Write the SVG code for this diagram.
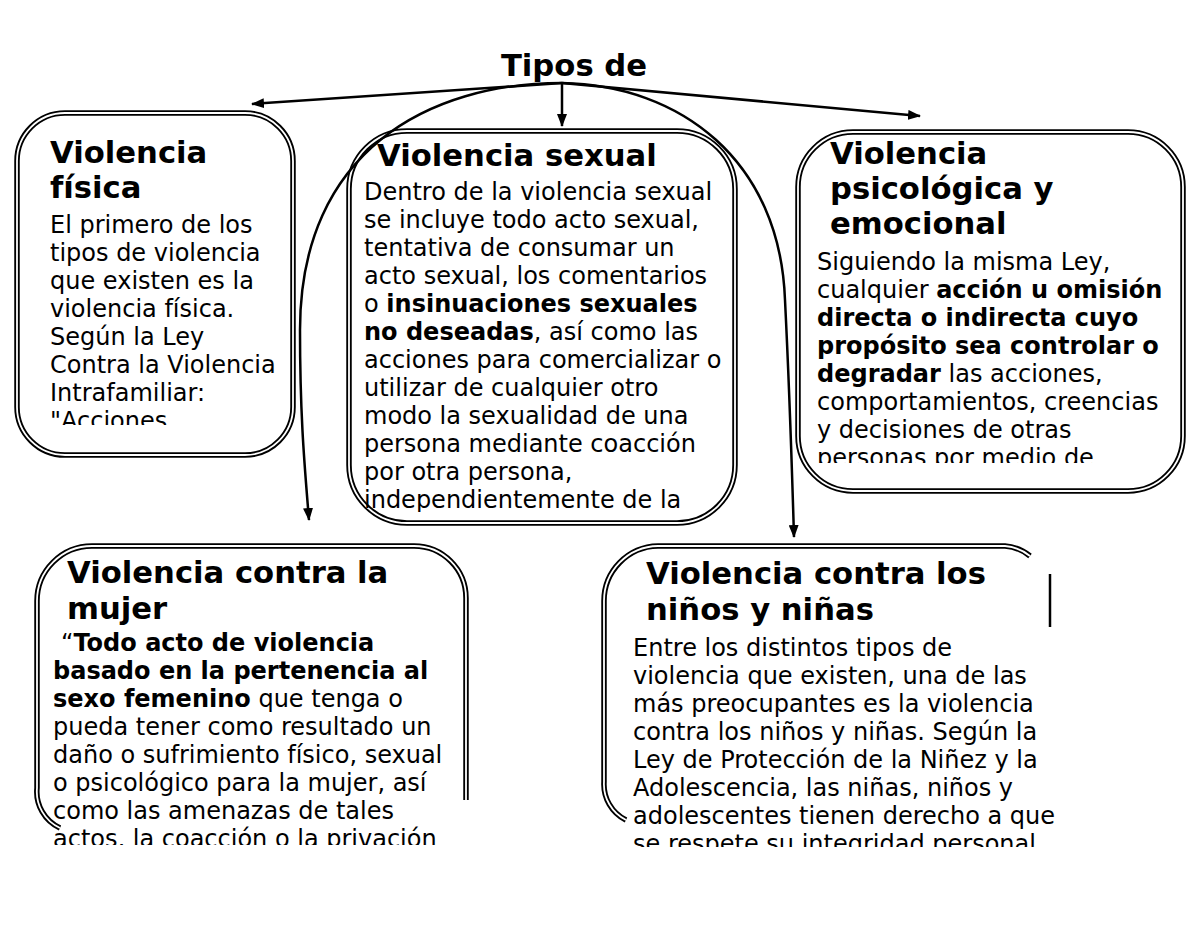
<svg xmlns="http://www.w3.org/2000/svg" width="1200" height="927" viewBox="0 0 1200 927">
<style>
.h{font-family:"DejaVu Sans","Liberation Sans",sans-serif;font-weight:bold;font-size:30.67px;fill:#000}
.t{font-family:"DejaVu Sans","Liberation Sans",sans-serif;font-size:24px;fill:#000}
.b{font-weight:bold}
.ol{fill:none;stroke:#000;stroke-width:5.5}
.il{fill:none;stroke:#fff;stroke-width:1.8}
.c{fill:none;stroke:#000;stroke-width:2.5}
</style>
<defs>
<marker id="ah" markerUnits="userSpaceOnUse" markerWidth="14" markerHeight="10" refX="12" refY="5" orient="auto">
<path d="M0,0 L13,5 L0,10 z" fill="#000"/>
</marker>
<clipPath id="k1"><rect x="0" y="100" width="300" height="325"/></clipPath>
<clipPath id="k2"><rect x="340" y="120" width="400" height="392"/></clipPath>
<clipPath id="k3"><rect x="790" y="120" width="400" height="343"/></clipPath>
<clipPath id="k4"><rect x="30" y="540" width="450" height="305"/></clipPath>
<clipPath id="k5"><rect x="600" y="540" width="470" height="307"/></clipPath>
</defs>
<rect width="1200" height="927" fill="#fff"/>
<g id="title"><text class="h" x="574" y="76" text-anchor="middle">Tipos de</text></g>
<g id="node-fisica">
<rect class="ol" x="17" y="113" width="276" height="342" rx="48"/>
<rect class="il" x="17" y="113" width="276" height="342" rx="48"/>
<text class="h" x="50" y="163">Violencia</text>
<text class="h" x="50" y="198">física</text>
<g clip-path="url(#k1)">
<text class="t" x="50" y="233">El primero de los</text>
<text class="t" x="50" y="261">tipos de violencia</text>
<text class="t" x="50" y="289">que existen es la</text>
<text class="t" x="50" y="317">violencia física.</text>
<text class="t" x="50" y="345">Según la Ley</text>
<text class="t" x="50" y="373">Contra la Violencia</text>
<text class="t" x="50" y="401">Intrafamiliar:</text>
<text class="t" x="50" y="429">"Acciones</text>
</g>
</g>
<g id="node-sexual">
<rect class="ol" x="349" y="131" width="386" height="392" rx="58"/>
<rect class="il" x="349" y="131" width="386" height="392" rx="58"/>
<text class="h" x="377" y="166">Violencia sexual</text>
<g clip-path="url(#k2)">
<text class="t" x="364" y="200">Dentro de la violencia sexual</text>
<text class="t" x="364" y="228">se incluye todo acto sexual,</text>
<text class="t" x="364" y="256">tentativa de consumar un</text>
<text class="t" x="364" y="284">acto sexual, los comentarios</text>
<text class="t" x="364" y="312">o <tspan class="b">insinuaciones sexuales</tspan></text>
<text class="t" x="364" y="340"><tspan class="b">no deseadas</tspan>, así como las</text>
<text class="t" x="364" y="368">acciones para comercializar o</text>
<text class="t" x="364" y="396">utilizar de cualquier otro</text>
<text class="t" x="364" y="424">modo la sexualidad de una</text>
<text class="t" x="364" y="452">persona mediante coacción</text>
<text class="t" x="364" y="480">por otra persona,</text>
<text class="t" x="364" y="508">independientemente de la</text>
</g>
</g>
<g id="node-psicologica">
<rect class="ol" x="798" y="132" width="385" height="359" rx="55"/>
<rect class="il" x="798" y="132" width="385" height="359" rx="55"/>
<text class="h" x="830" y="164">Violencia</text>
<text class="h" x="830" y="199">psicológica y</text>
<text class="h" x="830" y="234">emocional</text>
<g clip-path="url(#k3)">
<text class="t" x="817" y="270">Siguiendo la misma Ley,</text>
<text class="t" x="817" y="298">cualquier <tspan class="b">acción u omisión</tspan></text>
<text class="t b" x="817" y="326">directa o indirecta cuyo</text>
<text class="t b" x="817" y="354">propósito sea controlar o</text>
<text class="t" x="817" y="382"><tspan class="b">degradar</tspan> las acciones,</text>
<text class="t" x="817" y="410">comportamientos, creencias</text>
<text class="t" x="817" y="438">y decisiones de otras</text>
<text class="t" x="817" y="466">personas por medio de</text>
</g>
</g>
<g id="node-mujer">
<path class="ol" d="M466,800 V598 A52,52 0 0 0 414,546 H92 A55,55 0 0 0 37,601 V788 A40,40 0 0 0 60,828"/>
<path class="il" d="M466,800 V598 A52,52 0 0 0 414,546 H92 A55,55 0 0 0 37,601 V788 A40,40 0 0 0 60,828"/>
<text class="h" x="67" y="583">Violencia contra la</text>
<text class="h" x="67" y="619">mujer</text>
<g clip-path="url(#k4)">
<text class="t" x="61" y="651">“<tspan class="b">Todo acto de violencia</tspan></text>
<text class="t b" x="53" y="679">basado en la pertenencia al</text>
<text class="t" x="53" y="707"><tspan class="b">sexo femenino</tspan> que tenga o</text>
<text class="t" x="53" y="735">pueda tener como resultado un</text>
<text class="t" x="53" y="763">daño o sufrimiento físico, sexual</text>
<text class="t" x="53" y="791">o psicológico para la mujer, así</text>
<text class="t" x="53" y="819">como las amenazas de tales</text>
<text class="t" x="53" y="847">actos, la coacción o la privación</text>
</g>
</g>
<g id="node-ninos">
<path class="ol" d="M1030,556 A45,45 0 0 0 1005,546 H658 A55,55 0 0 0 604,601 V782 A40,40 0 0 0 626,820"/>
<path class="il" d="M1030,556 A45,45 0 0 0 1005,546 H658 A55,55 0 0 0 604,601 V782 A40,40 0 0 0 626,820"/>
<path class="c" d="M1050,574 V627"/>
<text class="h" x="646" y="584">Violencia contra los</text>
<text class="h" x="646" y="620">niños y niñas</text>
<g clip-path="url(#k5)">
<text class="t" x="633" y="656">Entre los distintos tipos de</text>
<text class="t" x="633" y="684">violencia que existen, una de las</text>
<text class="t" x="633" y="712">más preocupantes es la violencia</text>
<text class="t" x="633" y="740">contra los niños y niñas. Según la</text>
<text class="t" x="633" y="768">Ley de Protección de la Niñez y la</text>
<text class="t" x="633" y="796">Adolescencia, las niñas, niños y</text>
<text class="t" x="633" y="824">adolescentes tienen derecho a que</text>
<text class="t" x="633" y="852">se respete su integridad personal</text>
</g>
</g>
<g id="connectors">
<path class="c" d="M562,83 L252,104" marker-end="url(#ah)"/>
<path class="c" d="M562,83 L920,116" marker-end="url(#ah)"/>
<path class="c" d="M562,83 L562,126" marker-end="url(#ah)"/>
<path class="c" d="M562,83 C430,83 300,150 300,330 C300,420 305,470 309,520" marker-end="url(#ah)"/>
<path class="c" d="M562,83 C680,85 780,160 785,300 C790,400 792,470 794,537" marker-end="url(#ah)"/>
</g>
</svg>
